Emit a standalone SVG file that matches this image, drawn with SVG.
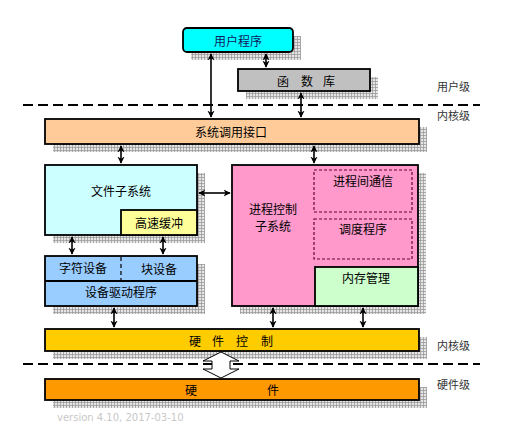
<svg xmlns="http://www.w3.org/2000/svg" width="523" height="424" viewBox="0 0 523 424">
<defs>
<pattern id="grid" width="3" height="3" patternUnits="userSpaceOnUse">
<rect width="3" height="3" fill="#e6e6e6"/>
<path d="M0 0.5H3M0.5 0V3" stroke="#9a9a9a" stroke-width="0.8" fill="none"/>
</pattern>
<marker id="ah" viewBox="0 0 10 10" refX="9" refY="5" markerWidth="4.5" markerHeight="4.5" orient="auto-start-reverse" markerUnits="strokeWidth">
<path d="M0 0L10 5L0 10L3 5Z" fill="#000"/>
</marker>
<style>
.box{stroke:#000;stroke-width:1.8}
.sh{fill:url(#grid)}
.t{font-family:"Noto Sans CJK SC","Noto Sans",sans-serif;font-size:12px;fill:#000;text-anchor:middle;dominant-baseline:central}
.lv{font-family:"Noto Sans CJK SC","Noto Sans",sans-serif;font-size:11px;fill:#333;dominant-baseline:central}
.dl{stroke:#000;stroke-width:2;stroke-dasharray:10 5;fill:none}
.c{stroke:#000;stroke-width:1.6;fill:none;marker-start:url(#ah);marker-end:url(#ah)}
.dash{stroke:#6a0030;stroke-width:1.2;stroke-dasharray:3 2;fill:none}
</style>
</defs>
<rect width="523" height="424" fill="#fff"/>

<!-- level separators -->
<line class="dl" x1="23" y1="105" x2="480" y2="105"/>
<line class="dl" x1="23" y1="364" x2="480" y2="364"/>
<text class="lv" x="437" y="86">用户级</text>
<text class="lv" x="437" y="115">内核级</text>
<text class="lv" x="437" y="345">内核级</text>
<text class="lv" x="437" y="384">硬件级</text>

<g id="user-program">
<rect class="sh" x="191" y="36" width="110" height="24"/>
<rect class="box" x="183" y="28" width="110" height="24" rx="4" fill="#00ffff"/>
<text class="t" x="238" y="40" style="fill:#10205a">用户程序</text>
</g>

<g id="library">
<rect class="sh" x="246" y="77" width="132" height="22"/>
<rect class="box" x="238" y="69" width="132" height="22" fill="#c0c0c0"/>
<text class="t" x="283" y="80">函</text>
<text class="t" x="307" y="80">数</text>
<text class="t" x="329" y="80">库</text>
</g>

<g id="syscall">
<rect class="sh" x="53" y="127" width="374" height="25"/>
<rect class="box" x="45" y="119" width="374" height="25" fill="#ffcc99"/>
<text class="t" x="231" y="131">系统调用接口</text>
</g>

<g id="file-subsystem">
<rect class="sh" x="53" y="173" width="152" height="70"/>
<rect class="box" x="45" y="165" width="152" height="70" fill="#ccffff"/>
<text class="t" x="121" y="190">文件子系统</text>
<rect class="box" x="121" y="210" width="76" height="25" fill="#ffff99"/>
<text class="t" x="159" y="222">高速缓冲</text>
</g>

<g id="devices">
<rect class="sh" x="53" y="264" width="152" height="50"/>
<rect class="box" x="45" y="256" width="152" height="50" fill="#99ccff"/>
<line class="box" x1="45" y1="281" x2="197" y2="281"/>
<line x1="121" y1="257" x2="121" y2="280" stroke="#000" stroke-width="1.2" stroke-dasharray="4 3"/>
<text class="t" x="83" y="267">字符设备</text>
<text class="t" x="159" y="268">块设备</text>
<text class="t" x="121" y="291">设备驱动程序</text>
</g>

<g id="process-control">
<rect class="sh" x="240" y="173" width="186" height="141"/>
<rect class="box" x="232" y="165" width="186" height="141" fill="#ff99cc"/>
<text class="t" x="273" y="208">进程控制</text>
<text class="t" x="273" y="225">子系统</text>
<rect class="dash" x="314" y="170" width="98" height="42"/>
<text class="t" x="363" y="180">进程间通信</text>
<rect class="dash" x="314" y="219" width="98" height="40"/>
<text class="t" x="363" y="228">调度程序</text>
<rect class="box" x="315" y="267" width="103" height="39" fill="#ccffcc"/>
<text class="t" x="366" y="277">内存管理</text>
</g>

<g id="hardware-control">
<rect class="sh" x="53" y="337" width="374" height="22"/>
<rect class="box" x="45" y="329" width="374" height="22" fill="#ffcc00"/>
<text class="t" x="195" y="340">硬</text>
<text class="t" x="218" y="340">件</text>
<text class="t" x="242" y="340">控</text>
<text class="t" x="267" y="340">制</text>
</g>

<g id="hardware">
<rect class="sh" x="53" y="387" width="374" height="21"/>
<rect class="box" x="45" y="379" width="374" height="21" fill="#ff9900"/>
<text class="t" x="191" y="389">硬</text>
<text class="t" x="273" y="389">件</text>
</g>

<g id="connectors">
<line class="c" x1="211" y1="54" x2="211" y2="117"/>
<line class="c" x1="266" y1="54" x2="266" y2="67"/>
<line class="c" x1="301" y1="93" x2="301" y2="117"/>
<line class="c" x1="121" y1="146" x2="121" y2="163"/>
<line class="c" x1="314" y1="146" x2="314" y2="163"/>
<line class="c" x1="199" y1="193" x2="230" y2="193"/>
<line class="c" x1="72" y1="237" x2="72" y2="254"/>
<line class="c" x1="163" y1="237" x2="163" y2="254"/>
<line class="c" x1="114" y1="308" x2="114" y2="327"/>
<line class="c" x1="273" y1="308" x2="273" y2="327"/>
<line class="c" x1="363" y1="308" x2="363" y2="327"/>
<path d="M221 352L239 361H230V369H239L221 378L203 369H212V361H203Z" fill="#fff" stroke="#000" stroke-width="1"/>
</g>

<text x="57" y="417" font-family="'DejaVu Sans',sans-serif" font-size="10" fill="#c8c8c8" dominant-baseline="central">version 4.10, 2017-03-10</text>
</svg>
